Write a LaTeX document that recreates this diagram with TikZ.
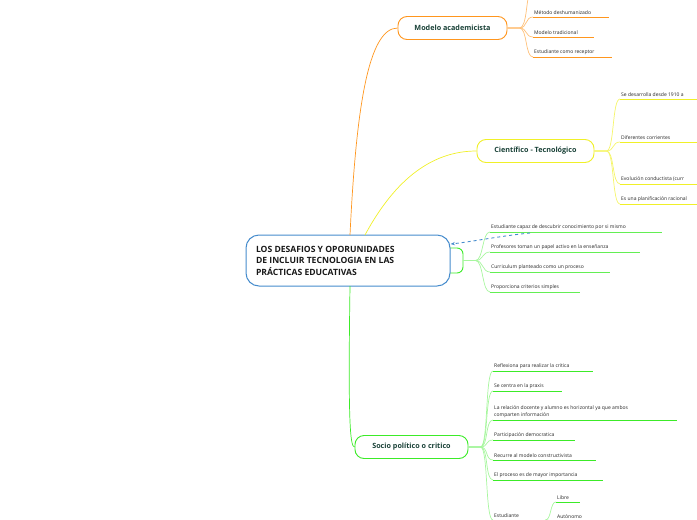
\documentclass[tikz,border=0pt]{standalone}
\usepackage{fontspec}
\setmainfont{Open Sans}
\usetikzlibrary{arrows.meta}
\definecolor{cblue}{RGB}{70,140,205}
\definecolor{corange}{RGB}{255,150,30}
\definecolor{cyellow}{RGB}{240,240,40}
\definecolor{cgreen}{RGB}{60,235,40}
\definecolor{cdark}{RGB}{25,65,55}
\tikzset{
  leaf/.style={font=\fontsize{5}{6.6}\selectfont, anchor=south west, inner xsep=1pt,
    inner ysep=2.5pt, text=black!85, align=flush left},
  branch/.style={draw, rounded corners=9pt, line width=0.9pt, fill=white,
    font=\fontsize{7.2}{8}\selectfont\bfseries, text=cdark, minimum height=23pt},
  link/.style={line width=0.7pt}
}
\begin{document}
\begin{tikzpicture}[x=1pt,y=-1pt]
\useasboundingbox (0,0) rectangle (697,520);
% hidden branch behind the centre
\node[draw=cgreen, line width=0.9pt, rounded corners=6pt, minimum width=26pt, minimum height=25pt] (hid) at (450,260.5) {};
% centre
\node[draw=cblue, line width=1pt, rounded corners=13pt, fill=white, minimum width=204pt,
  minimum height=51pt, text width=184pt, align=flush left, font=\fontsize{8.6}{11.5}\selectfont\bfseries,
  text=black!90] (root) at (348,260.5)
  {LOS DESAFIOS Y OPORUNIDADES\\DE INCLUIR TECNOLOGIA EN LAS\\PRÁCTICAS EDUCATIVAS};
% branches
\node[branch, draw=corange, minimum width=109pt] (acad) at (452.5,28) {Modelo academicista};
\node[branch, draw=cyellow, minimum width=117pt] (cien) at (535.5,151) {Científico - Tecnológico};
\node[branch, draw=cgreen, minimum width=113pt] (socio) at (411.5,447) {Socio político o critico};
\draw[link, corange] (350,235) .. controls (356,110) and (368,28) .. (acad.west);
\draw[link, cyellow] (365,235) .. controls (400,170) and (440,151) .. (cien.west);
\draw[link, cgreen] (350,286) .. controls (348,420) and (350,447) .. (socio.west);
% orange leaves
\draw[link, corange!60] (acad.east) -- ++(12,0) .. controls +(8,0) and +(-4,0) .. (530,-5);
\foreach \n/\y/\w/\t in {a1/17/76/Método deshumanizado, a2/37/61/Modelo tradicional, a3/57/79/Estudiante como receptor}{
  \node[leaf, text width=\w pt-2pt] (\n) at (533,\y) {\t};
  \draw[link, corange] (\n.south west) -- (\n.south east);
  \draw[link, corange!60] (acad.east) -- ++(12,0) .. controls +(8,0) and +(-8,0) .. (\n.south west);
}
% yellow leaves
\foreach \n/\y/\t in {c1/99/{Se desarrolla desde 1910 a}, c2/142/Diferentes corrientes, c3/184/{Evolución conductista (curr}, c4/204/{Es una planificación racional}}{
  \node[leaf, text width=100pt] (\n) at (620,\y) {\t};
  \draw[link, cyellow] (\n.south west) -- (\n.south east);
  \draw[link, cyellow!70] (cien.east) -- ++(12,0) .. controls +(8,0) and +(-8,0) .. (\n.south west);
}
% green leaves of the hidden branch
\foreach \n/\y/\w/\t in {h1/232/172/Estudiante capaz de descubrir conocimiento por si mismo, h2/252/150/Profesores toman un papel activo en la enseñanza, h3/272/120/Curriculum planteado como un proceso, h4/292/90/Proporciona criterios simples}{
  \node[leaf, text width=\w pt-2pt] (\n) at (490,\y) {\t};
  \draw[link, cgreen!80] (\n.south west) -- (\n.south east);
  \draw[link, cgreen!45] (hid.east) -- ++(12,0) .. controls +(8,0) and +(-8,0) .. (\n.south west);
}
\coordinate (tip) at (530,233);
\draw[cblue, line width=0.9pt, dashed, -{Stealth[length=4.5pt]}] (tip) .. controls (500,236) and (470,242) .. (root.east |- 0,244);
% socio leaves
\foreach \n/\y/\w/\t in {s1/371/100/Reflexiona para realizar la critica, s2/391/69/Se centra en la praxis, s3/420/184/La relación docente y alumno es horizontal ya que ambos\\comparten información, s4/440/82/Participación democratica, s5/460/103/Recurre al modelo constructivista, s6/480/110/El proceso es de mayor importancia, s7/520/52/Estudiante}{
  \node[leaf, text width=\w pt-2pt] (\n) at (493,\y) {\t};
  \draw[link, cgreen] (\n.south west) -- (\n.south east);
  \draw[link, cgreen!45] (socio.east) -- ++(12,0) .. controls +(8,0) and +(-8,0) .. (\n.south west);
}
\foreach \n/\y/\w/\t in {e1/502/24/Libre, e2/521/40/Autónomo}{
  \node[leaf, text width=\w pt-2pt] (\n) at (556,\y) {\t};
  \draw[link, cgreen] (\n.south west) -- (\n.south east);
  \draw[link, cgreen!45] (s7.south east) .. controls +(6,0) and +(-6,0) .. (\n.south west);
}
\end{tikzpicture}
\end{document}
